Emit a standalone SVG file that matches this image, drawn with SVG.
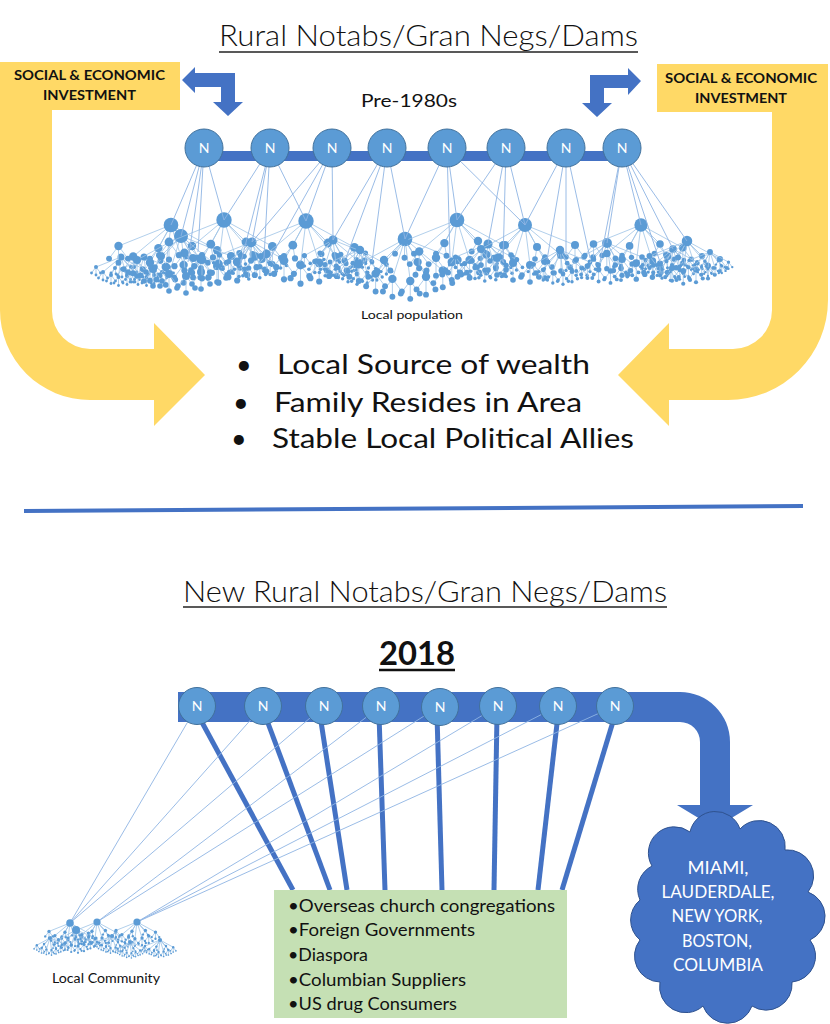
<svg xmlns="http://www.w3.org/2000/svg" xmlns:xlink="http://www.w3.org/1999/xlink" width="830" height="1024" viewBox="0 0 830 1024">
<style>
.y{fill:#FFD966}
.ba{fill:#4472C4}
.nd{fill:#5B9BD5;stroke:#41719C;stroke-width:1}
.nt{fill:#fff;font-family:Lato,"Open Sans",sans-serif;font-size:14px;text-anchor:middle}
.tl{stroke:#9DC3E6;stroke-width:0.8;fill:none}
.nl{stroke:#8FB4E3;stroke-width:0.9;fill:none}
.tk{stroke:#4472C4;stroke-width:5;fill:none}
.dt{fill:#5B9BD5}
.t{font-family:Lato,"Open Sans",sans-serif;fill:#111}
.b{font-family:Lato,"Open Sans",sans-serif;font-weight:bold;fill:#111}
.ct{font-family:Lato,"Open Sans",sans-serif;fill:#fff;font-size:17px;text-anchor:middle}
.gt{font-family:Lato,"Open Sans",sans-serif;fill:#111;font-size:17px}
.ul{stroke:#222;stroke-width:1.5}
</style>
<defs>
<g id="cl">
<path class="tl" vector-effect="non-scaling-stroke" d="M0,0L-50,20M0,0L-36,30M0,0L-20,36M0,0L-5,40M0,0L12,38M0,0L28,33M0,0L44,24M0,0L-12,22M0,0L20,20M-50,20L-59,32M-50,20L-50,36M-50,20L-41,32M-36,30L-45,42M-36,30L-36,46M-36,30L-27,42M-20,36L-29,48M-20,36L-20,53M-20,36L-11,48M-5,40L-14,52M-5,40L-5,57M-5,40L4,52M12,38L3,50M12,38L12,55M12,38L21,50M28,33L19,45M28,33L28,50M28,33L37,45M44,24L35,36M44,24L44,40M44,24L53,36M-12,22L-20,32M-12,22L-10,34M20,20L14,30M20,20L26,31"/>
<g class="dt">
<circle cx="-50" cy="20" r="4"/><circle cx="-36" cy="30" r="4"/><circle cx="-20" cy="36" r="4"/><circle cx="-5" cy="40" r="4"/><circle cx="12" cy="38" r="4"/><circle cx="28" cy="33" r="4"/><circle cx="44" cy="24" r="4"/><circle cx="-12" cy="22" r="4"/><circle cx="20" cy="20" r="4"/>
<circle cx="-59" cy="32" r="2.8"/><circle cx="-50" cy="36" r="2.8"/><circle cx="-41" cy="32" r="2.8"/>
<circle cx="-45" cy="42" r="2.8"/><circle cx="-36" cy="46" r="2.8"/><circle cx="-27" cy="42" r="2.8"/>
<circle cx="-29" cy="48" r="2.8"/><circle cx="-20" cy="53" r="2.8"/><circle cx="-11" cy="48" r="2.8"/>
<circle cx="-14" cy="52" r="2.8"/><circle cx="-5" cy="57" r="2.8"/><circle cx="4" cy="52" r="2.8"/>
<circle cx="3" cy="50" r="2.8"/><circle cx="12" cy="55" r="2.8"/><circle cx="21" cy="50" r="2.8"/>
<circle cx="19" cy="45" r="2.8"/><circle cx="28" cy="50" r="2.8"/><circle cx="37" cy="45" r="2.8"/>
<circle cx="35" cy="36" r="2.8"/><circle cx="44" cy="40" r="2.8"/><circle cx="53" cy="36" r="2.8"/>
<circle cx="-20" cy="32" r="2.8"/><circle cx="-10" cy="34" r="2.8"/><circle cx="14" cy="30" r="2.8"/><circle cx="26" cy="31" r="2.8"/>
<circle cx="0" cy="0" r="7"/>
</g>
</g>
</defs>

<rect width="830" height="1024" fill="#fff"/>

<!-- Titles -->
<g id="title-top">
<text class="t" x="219" y="46" font-size="29" font-weight="300" textLength="419" lengthAdjust="spacingAndGlyphs">Rural Notabs/Gran Negs/Dams</text>
<line class="ul" x1="219" y1="52" x2="638" y2="52"/>
</g>
<text id="pre1980" class="t" x="361" y="107" font-size="18" textLength="96" lengthAdjust="spacingAndGlyphs">Pre-1980s</text>

<!-- Yellow investment arrows -->
<g id="invest-left">
<path class="y" d="M0,62 H180 V110 H52 V311 A38,38 0 0 0 90,349 H154 V323 L205,375 L154,426 V400 H90 A90,90 0 0 1 0,310 Z"/>
<text class="b" x="14" y="80" font-size="13.5" textLength="151" lengthAdjust="spacingAndGlyphs">SOCIAL &amp; ECONOMIC</text>
<text class="b" x="43" y="100" font-size="13.5" textLength="93" lengthAdjust="spacingAndGlyphs">INVESTMENT</text>
</g>
<g id="invest-right">
<path class="y" d="M657,64 H828 V300 A100,100 0 0 1 728,400 H669 V426 L618,375 L669,323 V349 H733 A39,39 0 0 0 772,310 V112 H657 Z"/>
<text class="b" x="665" y="83" font-size="13.5" textLength="152" lengthAdjust="spacingAndGlyphs">SOCIAL &amp; ECONOMIC</text>
<text class="b" x="695" y="103" font-size="13.5" textLength="92" lengthAdjust="spacingAndGlyphs">INVESTMENT</text>
</g>

<!-- small blue bent arrows -->
<g id="bent-left"><path class="ba" d="M182,80 L195,67 V73 H235 V102 H243 L228,116 L213,102 H221 V87 H195 V93 Z"/></g>
<g id="bent-right"><path class="ba" d="M641,81 L628,68 V75 H590 V103 H582 L597,117 L612,103 H604 V88 H628 V95 Z"/></g>

<!-- Local population network -->
<g id="local-population">
<use xlink:href="#cl" transform="translate(121,257) scale(0.5)"/>
<use xlink:href="#cl" transform="translate(144,257) scale(-0.5,0.5)"/>
<use xlink:href="#cl" transform="translate(171,225) scale(1.05)"/>
<use xlink:href="#cl" transform="translate(181,236) scale(-1,1)"/>
<use xlink:href="#cl" transform="translate(224,220) scale(1.1)"/>
<use xlink:href="#cl" transform="translate(252,242) scale(0.65)"/>
<use xlink:href="#cl" transform="translate(306,221) scale(1.1)"/>
<use xlink:href="#cl" transform="translate(333,240) scale(-0.65,0.65)"/>
<use xlink:href="#cl" transform="translate(360,250) scale(0.6)"/>
<use xlink:href="#cl" transform="translate(405,239) scale(-1.05,1.05)"/>
<use xlink:href="#cl" transform="translate(457,220) scale(1.05)"/>
<use xlink:href="#cl" transform="translate(488,244) scale(0.65)"/>
<use xlink:href="#cl" transform="translate(525,225) scale(-1,1)"/>
<use xlink:href="#cl" transform="translate(560,250) scale(-0.6,0.6)"/>
<use xlink:href="#cl" transform="translate(607,243) scale(-0.7,0.7)"/>
<use xlink:href="#cl" transform="translate(641,225) scale(0.95)"/>
<use xlink:href="#cl" transform="translate(673,249) scale(0.55)"/>
<use xlink:href="#cl" transform="translate(687,241) scale(0.75)"/>
<use xlink:href="#cl" transform="translate(710,252) scale(0.42)"/>
<text class="t" x="361" y="319" font-size="12" textLength="102" lengthAdjust="spacingAndGlyphs">Local population</text>
</g>

<!-- connectors top -->
<g id="connectors-top" class="nl">
<path d="M204,148L171,225M204,148L181,236M204,148L224,220M204,148L198,252M204,148L188,262
M270,148L224,220M270,148L252,242M270,148L306,221M270,148L264,258M270,148L240,266
M332,148L252,242M332,148L306,221M332,148L333,240M332,148L268,262
M387,148L333,240M387,148L346,258M387,148L405,239M387,148L372,262
M447,148L405,239M447,148L457,220M447,148L525,225M447,148L450,258
M506,148L457,220M506,148L488,244M506,148L503,262M506,148L525,225
M566,148L525,225M566,148L547,260M566,148L566,254M566,148L590,258
M622,148L607,243M622,148L641,225M622,148L673,249M622,148L687,241M622,148L600,262M622,148L660,262"/>
</g>

<rect id="bar-top" class="ba" x="204" y="151" width="410" height="10"/>

<g id="n-top-1"><circle class="nd" cx="204" cy="148" r="19"/><text class="nt" x="204" y="153">N</text></g>
<g id="n-top-2"><circle class="nd" cx="270" cy="148" r="19"/><text class="nt" x="270" y="153">N</text></g>
<g id="n-top-3"><circle class="nd" cx="332" cy="148" r="19"/><text class="nt" x="332" y="153">N</text></g>
<g id="n-top-4"><circle class="nd" cx="387" cy="148" r="19"/><text class="nt" x="387" y="153">N</text></g>
<g id="n-top-5"><circle class="nd" cx="447" cy="148" r="19"/><text class="nt" x="447" y="153">N</text></g>
<g id="n-top-6"><circle class="nd" cx="506" cy="148" r="19"/><text class="nt" x="506" y="153">N</text></g>
<g id="n-top-7"><circle class="nd" cx="566" cy="148" r="19"/><text class="nt" x="566" y="153">N</text></g>
<g id="n-top-8"><circle class="nd" cx="622" cy="148" r="19"/><text class="nt" x="622" y="153">N</text></g>

<!-- bullets top -->
<g id="bullets-top" class="t" font-size="27">
<text x="236" y="374">•</text><text x="277" y="374" textLength="313" lengthAdjust="spacingAndGlyphs">Local Source of wealth</text>
<text x="233" y="412">•</text><text x="274" y="412" textLength="308" lengthAdjust="spacingAndGlyphs">Family Resides in Area</text>
<text x="231" y="448">•</text><text x="272" y="448" textLength="362" lengthAdjust="spacingAndGlyphs">Stable Local Political Allies</text>
</g>

<line id="divider" x1="24" y1="511" x2="803" y2="506" stroke="#4472C4" stroke-width="4"/>

<!-- Bottom titles -->
<g id="title-bottom">
<text class="t" x="183" y="602" font-size="29" font-weight="300" textLength="484" lengthAdjust="spacingAndGlyphs">New Rural Notabs/Gran Negs/Dams</text>
<line class="ul" x1="183" y1="607" x2="667" y2="607"/>
</g>
<g id="year-2018">
<text class="b" x="379" y="665" font-size="32" textLength="76" lengthAdjust="spacingAndGlyphs">2018</text>
<line x1="379" y1="670" x2="455" y2="670" stroke="#111" stroke-width="2.5"/>
</g>

<!-- thick connectors -->
<g id="connectors-bottom" class="tk">
<line x1="198" y1="715" x2="293" y2="890"/>
<line x1="265" y1="715" x2="330" y2="890"/>
<line x1="320" y1="715" x2="347" y2="890"/>
<line x1="379" y1="715" x2="385" y2="890"/>
<line x1="437" y1="715" x2="442" y2="890"/>
<line x1="497" y1="715" x2="494" y2="890"/>
<line x1="558" y1="715" x2="538" y2="890"/>
<line x1="615" y1="715" x2="562" y2="890"/>
</g>

<!-- bent big arrow / bar -->
<g id="bar-bottom"><path class="ba" d="M178,692 H680 A50,50 0 0 1 730,742 V805 H753 L715,828 L677,805 H700 V742 A20,20 0 0 0 680,722 H178 Z"/></g>

<!-- thin connectors to local community -->
<g id="connectors-local" class="nl">
<path d="M70,923L197,706M70,923L263,706M70,923L324,706M97,922L381,706M97,922L440,706M137,922L498,706M137,922L558,706M137,922L615,706"/>
</g>

<g id="n-bot-1"><circle class="nd" cx="197" cy="706" r="18.5"/><text class="nt" x="197" y="711">N</text></g>
<g id="n-bot-2"><circle class="nd" cx="263" cy="706" r="18.5"/><text class="nt" x="263" y="711">N</text></g>
<g id="n-bot-3"><circle class="nd" cx="324" cy="706" r="18.5"/><text class="nt" x="324" y="711">N</text></g>
<g id="n-bot-4"><circle class="nd" cx="381" cy="706" r="18.5"/><text class="nt" x="381" y="711">N</text></g>
<g id="n-bot-5"><circle class="nd" cx="440" cy="707" r="18.5"/><text class="nt" x="440" y="712">N</text></g>
<g id="n-bot-6"><circle class="nd" cx="498" cy="706" r="18.5"/><text class="nt" x="498" y="711">N</text></g>
<g id="n-bot-7"><circle class="nd" cx="558" cy="706" r="18.5"/><text class="nt" x="558" y="711">N</text></g>
<g id="n-bot-8"><circle class="nd" cx="615" cy="706" r="18.5"/><text class="nt" x="615" y="711">N</text></g>

<!-- Local community -->
<g id="local-community">
<use xlink:href="#cl" transform="translate(50,938) scale(-0.3,0.3)"/>
<use xlink:href="#cl" transform="translate(70,923) scale(0.42)"/>
<use xlink:href="#cl" transform="translate(76,930) scale(-0.4,0.4)"/>
<use xlink:href="#cl" transform="translate(97,922) scale(0.42)"/>
<use xlink:href="#cl" transform="translate(112,936) scale(0.3)"/>
<use xlink:href="#cl" transform="translate(137,922) scale(0.42)"/>
<use xlink:href="#cl" transform="translate(130,942) scale(-0.28,0.28)"/>
<use xlink:href="#cl" transform="translate(160,940) scale(0.3)"/>
<circle class="dt" cx="70" cy="923" r="3.8"/><circle class="dt" cx="76" cy="930" r="4"/><circle class="dt" cx="97" cy="922" r="3.6"/><circle class="dt" cx="137" cy="922" r="3.6"/>
<text class="t" x="52" y="983" font-size="12.5" textLength="108" lengthAdjust="spacingAndGlyphs">Local Community</text>
</g>

<!-- Green box -->
<g id="sources-box">
<rect x="274" y="890" width="293" height="128" fill="#C5E0B4"/>
<text class="gt" x="288" y="912" textLength="267" lengthAdjust="spacingAndGlyphs">•Overseas church congregations</text>
<text class="gt" x="288" y="936" textLength="187" lengthAdjust="spacingAndGlyphs">•Foreign Governments</text>
<text class="gt" x="288" y="961" textLength="80" lengthAdjust="spacingAndGlyphs">•Diaspora</text>
<text class="gt" x="288" y="986" textLength="178" lengthAdjust="spacingAndGlyphs">•Columbian Suppliers</text>
<text class="gt" x="288" y="1010" textLength="169" lengthAdjust="spacingAndGlyphs">•US drug Consumers</text>
</g>

<!-- Cloud -->
<g id="cloud-cities">
<path fill="#4472C4" stroke="#2F528F" stroke-width="1" d="M652,866 A26,26 0 0 1 690,832 A26,26 0 0 1 740,829 A26,26 0 0 1 785,850 A26,26 0 0 1 808,892 A26,26 0 0 1 810,940 A26,26 0 0 1 792,982 A26,26 0 0 1 752,1006 A26,26 0 0 1 703,1006 A26,26 0 0 1 660,982 A26,26 0 0 1 640,940 A26,26 0 0 1 640,900 A26,26 0 0 1 652,866 Z"/>
<text class="ct" x="718" y="874" textLength="61" lengthAdjust="spacingAndGlyphs">MIAMI,</text>
<text class="ct" x="718" y="898" textLength="113" lengthAdjust="spacingAndGlyphs">LAUDERDALE,</text>
<text class="ct" x="717" y="922" textLength="91" lengthAdjust="spacingAndGlyphs">NEW YORK,</text>
<text class="ct" x="717" y="947" textLength="70" lengthAdjust="spacingAndGlyphs">BOSTON,</text>
<text class="ct" x="718" y="971" textLength="90" lengthAdjust="spacingAndGlyphs">COLUMBIA</text>
</g>
</svg>
